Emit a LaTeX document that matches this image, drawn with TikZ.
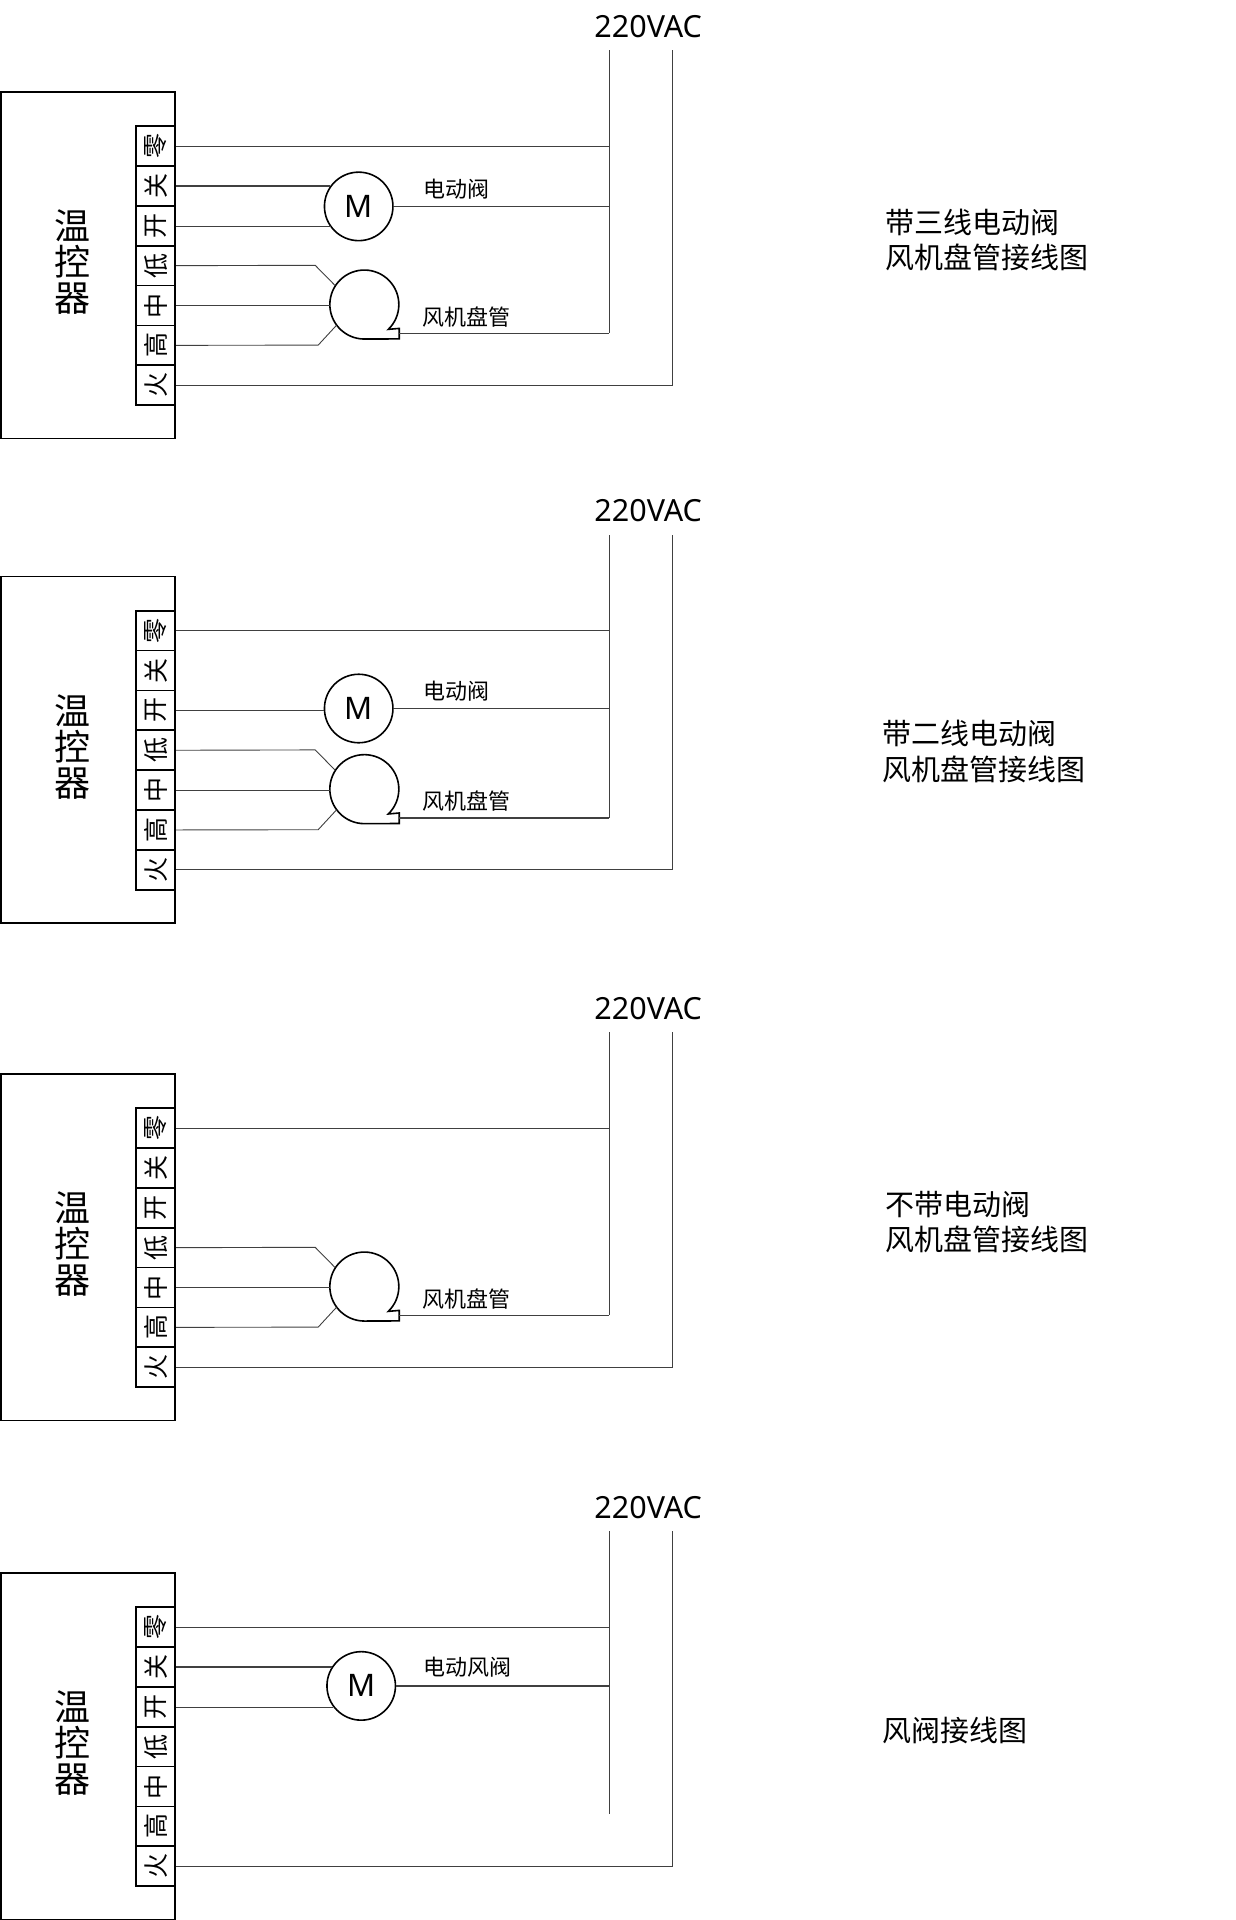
\documentclass[tikz,border=0pt]{standalone}
\usepackage{fontspec}
\usepackage{graphicx}
\setmainfont{Noto Sans}
\newfontfamily\cjk{Noto Sans CJK SC}
\usetikzlibrary{calc}

\tikzset{
	thick box/.style={draw=black,line width=1.7pt},
	wire/.style={draw=black!75,line width=1.2pt},
	cell/.style={thick box,minimum width=39pt,minimum height=39.85pt,inner sep=0pt,font=\cjk\fontsize{25}{25}\selectfont},
	motor/.style={draw=black,line width=1.6pt,circle,minimum size=68.5pt,inner sep=0pt,font=\fontsize{31}{31}\selectfont},
	part label/.style={inner sep=0pt,anchor=west,font=\cjk\fontsize{22}{22}\selectfont},
	title/.style={inner sep=0pt,anchor=west,align=left,font=\cjk\fontsize{29}{35.5}\selectfont},
	volts/.style={inner sep=0pt,font=\fontsize{30.5}{30.5}\selectfont},
}

% controller box with its seven terminals, and the two supply rails
\newcommand{\controller}{
	\node[thick box,minimum width=174pt,minimum height=346.5pt,inner sep=0pt] (ctrl) at (88,264.7) {};
	\node[inner sep=0pt,align=center,font=\cjk\fontsize{36}{36}\selectfont] (name) at (72,262) {温\\控\\器};
	\foreach \i/\t in {1/零,2/关,3/开,4/低,5/中,6/高,7/火}
		\node[cell] (t\i) at (155.5,{145.7+39.85*(\i-1)}) {\rotatebox{90}{\t}};
	\node[volts] (vac) at (648,26) {220VAC};
	\coordinate (ntop) at (609,50);
	\coordinate (ltop) at (672,50);
	\draw[wire] (t1.east) -- (t1.east -| ntop);
	\draw[wire] (ltop) |- (t7.east);
}

% fan coil with its three speed wires
\newcommand{\fancoil}{
	\node[circle,minimum size=69pt,inner sep=0pt] (fan) at (364,304) {};
	\coordinate (tail) at (399,333);
	\draw[draw=black,line width=1.6pt,line join=miter] (fan.-46) arc[start angle=-46,end angle=270,radius=34.5pt] -- (399,338.5) -- (399,328) -- cycle;
	\coordinate (k1) at (315,264.9);
	\coordinate (k3) at (318,344.7);
	\draw[wire,line width=.9pt] (t4.east) -- (k1) -- (fan.147);
	\draw[wire] (t5.east) -- (t5.east -| fan.west);
	\draw[wire,line width=.9pt] (t6.east) -- (k3) -- (fan.217);
	\draw[wire] (tail) -- (tail -| ntop);
	\node[part label] (fanlbl) at (422,316.5) {风机盘管};
}

\begin{document}
\begin{tikzpicture}[x=1pt,y=-1pt]
	\useasboundingbox (-.2,-.4) rectangle (1234.8,1919.6);
	
	\begin{scope}[name prefix=a-]
		\controller
		\fancoil
		\node[motor] (mot) at (358.5,206) {M};
		\draw[wire] (t2.east) -- (t2.east -| mot.144);
		\draw[wire] ([yshift=-1pt]t3.east) -- ([yshift=-1pt]t3.east -| mot.218);
		\draw[wire] (mot.east) -- (mot.east -| ntop);
		\draw[wire] (ntop) -- (tail -| ntop);
		\node[part label] (motlbl) at (423,189) {电动阀};
		\node[title] (cap) at (885,239.5) {带三线电动阀\\风机盘管接线图};
	\end{scope}
	
	\begin{scope}[name prefix=b-,shift={(0,484.6)}]
		\controller
		\fancoil
		\node[motor] (mot) at (358.5,223.5) {M};
		\draw[wire] (t3.east) -- (t3.east -| mot.west);
		\draw[wire] (mot.east) -- (mot.east -| ntop);
		\draw[wire] (ntop) -- (tail -| ntop);
		\node[part label] (motlbl) at (423,206.5) {电动阀};
		\node[title] (cap) at (882,266.5) {带二线电动阀\\风机盘管接线图};
	\end{scope}
	
	\begin{scope}[name prefix=c-,shift={(0,982)}]
		\controller
		\fancoil
		\draw[wire] (ntop) -- (tail -| ntop);
		\node[title] (cap) at (885,239.5) {不带电动阀\\风机盘管接线图};
	\end{scope}
	
	\begin{scope}[name prefix=d-,shift={(0,1481)}]
		\controller
		\node[motor] (mot) at (361,204.5) {M};
		\draw[wire] (t2.east) -- (t2.east -| mot.145);
		\draw[wire] ([yshift=-1pt]t3.east) -- ([yshift=-1pt]t3.east -| mot.217);
		\draw[wire] (mot.east) -- (mot.east -| ntop);
		\coordinate (nend) at (609,333);
		\draw[wire] (ntop) -- (nend);
		\node[part label] (motlbl) at (423,186) {电动风阀};
		\node[title] (cap) at (882,249) {风阀接线图};
	\end{scope}
\end{tikzpicture}
\end{document}
